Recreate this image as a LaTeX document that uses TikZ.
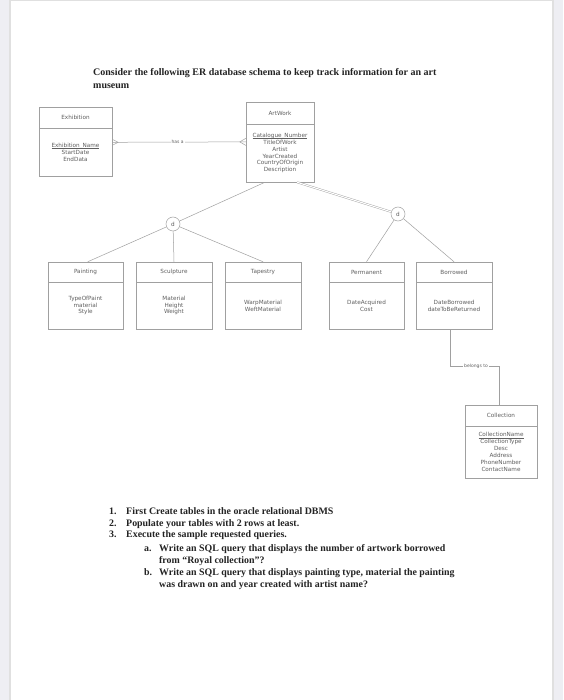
\documentclass[tikz,border=0pt]{standalone}
\usepackage{fontspec}
\setmainfont{Liberation Serif}
\newfontfamily\dfont{DejaVu Sans}
\usetikzlibrary{calc}
\definecolor{ln}{RGB}{160,160,160}
\definecolor{tx}{RGB}{95,95,95}
\definecolor{bgc}{RGB}{238,238,243}
\definecolor{qt}{RGB}{35,35,35}
\newcommand\ulin[1]{\setbox0\hbox{#1}\rlap{\rule[-1.3pt]{\wd0}{0.3pt}}\box0}
\tikzset{
  ebox/.style={draw=ln, line width=0.5pt, inner sep=0pt, align=center, text=tx,
    font=\dfont\fontsize{5.7}{6.9}\selectfont},
  dcirc/.style={draw=ln, line width=0.5pt, circle, minimum size=14pt, inner sep=0pt, text=tx,
    font=\dfont\fontsize{5.7}{6.9}\selectfont, fill=white},
  conn/.style={draw=ln, line width=0.5pt},
  dconn/.style={draw=ln, line width=0.4pt, double=white, double distance=1.1pt},
  rlabel/.style={fill=white, inner sep=1pt, text=tx, font=\dfont\fontsize{4.5}{5}\selectfont},
  qtext/.style={anchor=base west, inner sep=0pt, text=qt, font=\fontsize{9.9}{11}\selectfont\bfseries},
  ttext/.style={anchor=base west, inner sep=0pt, text=qt, font=\fontsize{10}{13}\selectfont\bfseries},
}
\begin{document}
\begin{tikzpicture}[x=1pt,y=-1pt]
\useasboundingbox (0,0) rectangle (563,700);
\fill[bgc] (0,0) rectangle (563,700);
\fill[black!12] (9,0) rectangle (554,700);
\fill[white] (11,1.5) rectangle (552,700);

% title
\node[ttext] (t1) at (93,76) {Consider the following ER database schema to keep track information for an art};
\node[ttext] (t2) at (93,89) {museum};

% Exhibition
\node[ebox, minimum width=73pt, minimum height=21pt] (exh) at (75.5,117.5) {Exhibition};
\node[ebox, minimum width=73pt, minimum height=48pt] (exhb) at (75.5,152) {\ulin{Exhibition\_Name}\\StartDate\\EndData};

% ArtWork
\node[ebox, minimum width=68pt, minimum height=22pt] (art) at (280,113) {ArtWork};
\node[ebox, minimum width=68pt, minimum height=58pt] (artb) at (280,153) {\ulin{Catalogue\_Number}\\TitleOfWork\\Artist\\YearCreated\\CountryOfOrigin\\Description};

% subclasses
\node[ebox, minimum width=75pt, minimum height=20pt] (pai) at (85.5,272) {Painting};
\node[ebox, minimum width=75pt, minimum height=47pt] (paib) at (85.5,305.5) {TypeOfPaint\\material\\Style};
\node[ebox, minimum width=76pt, minimum height=20pt] (scu) at (174,272) {Sculpture};
\node[ebox, minimum width=76pt, minimum height=47pt] (scub) at (174,305.5) {Material\\Height\\Weight};
\node[ebox, minimum width=76pt, minimum height=20pt] (tap) at (263,272) {Tapestry};
\node[ebox, minimum width=76pt, minimum height=47pt] (tapb) at (263,305.5) {WarpMaterial\\WeftMaterial};
\node[ebox, minimum width=75pt, minimum height=20pt] (per) at (366.5,272) {Permanent};
\node[ebox, minimum width=75pt, minimum height=47pt] (perb) at (366.5,305.5) {DateAcquired\\Cost};
\node[ebox, minimum width=76pt, minimum height=20pt] (bor) at (454,272) {Borrowed};
\node[ebox, minimum width=76pt, minimum height=47pt] (borb) at (454,305.5) {DateBorrowed\\dateToBeReturned};

% Collection
\node[ebox, minimum width=72pt, minimum height=21pt] (col) at (501,415.5) {Collection};
\node[ebox, minimum width=72pt, minimum height=52pt] (colb) at (501,452) {\ulin{CollectionName}\\CollectionType\\Desc\\Address\\PhoneNumber\\ContactName};

% disjoint circles
\node[dcirc] (d1) at (173,224) {d};
\node[dcirc] (d2) at (398,214) {d};

% Exhibition -- ArtWork relationship
\coordinate (ea) at ($(exhb.north east)!0.3!(exhb.south east)$);
\coordinate (aa) at ($(artb.north west)!0.31!(artb.south west)$);
\draw[conn] (ea) -- node[rlabel, pos=0.49] {has a} (aa);
\draw[conn] ($(ea)+(6,0)$) -- ($(ea)+(0,-3)$) ($(ea)+(6,0)$) -- ($(ea)+(0,3)$);
\draw[conn] ($(aa)+(-6,0)$) -- ($(aa)+(0,-3.5)$) ($(aa)+(-6,0)$) -- ($(aa)+(0,3.5)$);

% specialisation lines
\draw[conn] ($(artb.south west)!0.28!(artb.south east)$) -- (d1);
\draw[dconn] ($(artb.south west)!0.75!(artb.south east)$) -- (d2);
\draw[conn] (d1) -- ($(pai.north west)!0.53!(pai.north east)$);
\draw[conn] (d1) -- (scu.north);
\draw[conn] (d1) -- (tap.north);
\draw[conn] (d2) -- (per.north);
\draw[conn] (d2) -- (bor.north);

% belongs to
\node[rlabel] (bt) at (476,366) {belongs to};
\draw[conn] ($(borb.south)+(-4,0)$) |- (bt.west);
\draw[conn] (bt.east) -| ($(col.north)+(-2,0)$);

% questions
\node[qtext] (n1) at (109,514) {1.};
\node[qtext] (q1) at (126,514) {First Create tables in the oracle relational DBMS};
\node[qtext] (n2) at (109,526.5) {2.};
\node[qtext] (q2) at (126,526.5) {Populate your tables with 2 rows at least.};
\node[qtext] (n3) at (109,537.5) {3.};
\node[qtext] (q3) at (126,537.5) {Execute the sample requested queries.};
\node[qtext] (na) at (144,551) {a.};
\node[qtext] (qa) at (159,551) {Write an SQL query that displays the number of artwork borrowed};
\node[qtext] (qa2) at (159,563) {from “Royal collection”?};
\node[qtext] (nb) at (144,575) {b.};
\node[qtext] (qb) at (159,575) {Write an SQL query that displays painting type, material the painting};
\node[qtext] (qb2) at (159,587) {was drawn on and year created with artist name?};
\end{tikzpicture}
\end{document}
